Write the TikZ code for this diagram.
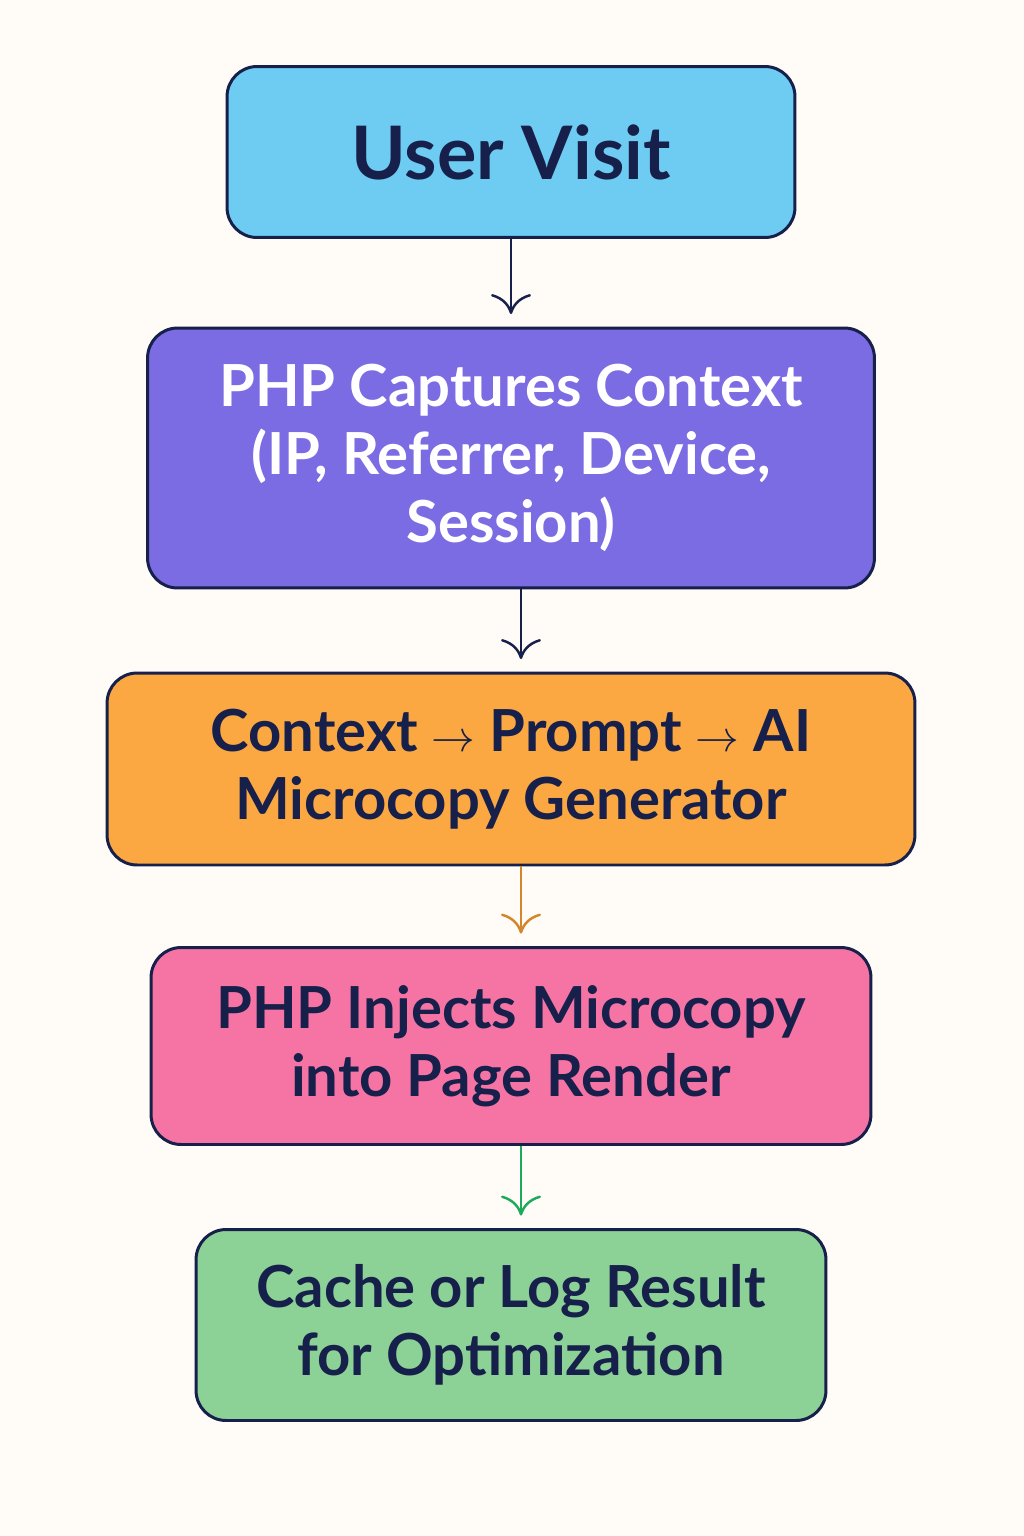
\documentclass[tikz,border=0pt]{standalone}
\usepackage{fontspec}
\setmainfont{Lato}
\usetikzlibrary{arrows.meta}
\definecolor{navy}{HTML}{16204A}
\definecolor{skyfill}{HTML}{6ECBF2}
\definecolor{violetfill}{HTML}{7B6CE3}
\definecolor{orangefill}{HTML}{FBA843}
\definecolor{pinkfill}{HTML}{F674A4}
\definecolor{greenfill}{HTML}{8CD196}
\definecolor{orangeline}{HTML}{D4872A}
\definecolor{greenline}{HTML}{1DAA5A}
\begin{document}
\begin{tikzpicture}[
		x=0.02cm, y=-0.02cm,
		>={To[length=4mm,width=8mm]},
		stage/.style={draw=navy,line width=1.7pt,rounded corners=0.6cm,align=center,
			text=navy,font=\bfseries\fontsize{33}{38.5}\selectfont,inner sep=0pt},
		link/.style={->,line width=1.4pt,draw=navy,shorten >=0.25cm}
	]
		\fill[white!97!orange] (0,0) rectangle (1024,1536);

		% Stages
		\node[stage,fill=skyfill,minimum width=11.36cm,minimum height=3.42cm,
			font=\bfseries\fontsize{42}{48}\selectfont] (visit) at (511,152) {User Visit};
		\node[stage,fill=violetfill,text=white,minimum width=14.54cm,minimum height=5.2cm] (capture) at (511,458)
			{PHP Captures Context\\(IP, Referrer, Device,\\Session)};
		\node[stage,fill=orangefill,minimum width=16.16cm,minimum height=3.84cm] (prompt) at (511,769)
			{Context $\rightarrow$ Prompt $\rightarrow$ AI\\Microcopy Generator};
		\node[stage,fill=pinkfill,minimum width=14.4cm,minimum height=3.94cm] (inject) at (511,1046)
			{PHP Injects Microcopy\\into Page Render};
		\node[stage,fill=greenfill,minimum width=12.6cm,minimum height=3.82cm] (cache) at (511,1325)
			{Cache or Log Result\\for Optimization};

		% Links
		\draw[link] (visit) -- (capture);
		\draw[link] ([xshift=0.2cm]capture.south) -- ([xshift=0.2cm]prompt.north);
		\draw[link,draw=orangeline] ([xshift=0.2cm]prompt.south) -- ([xshift=0.2cm]inject.north);
		\draw[link,draw=greenline] ([xshift=0.2cm]inject.south) -- ([xshift=0.2cm]cache.north);
	\end{tikzpicture}
\end{document}
